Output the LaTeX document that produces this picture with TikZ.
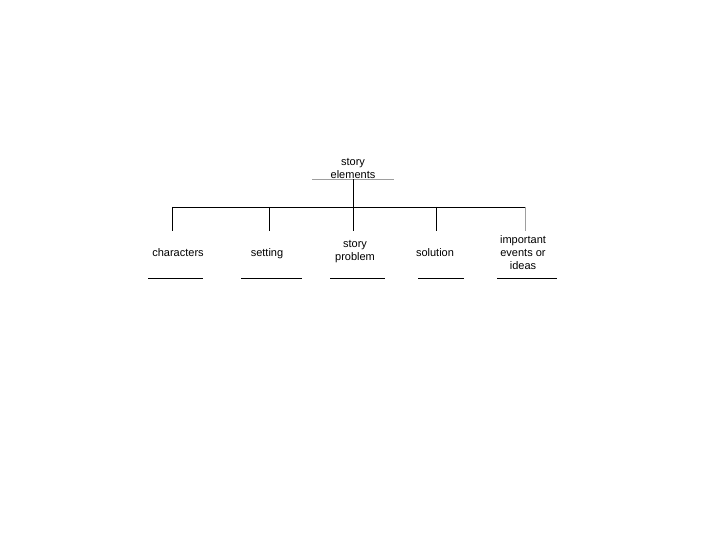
\documentclass[tikz,border=0pt]{standalone}
\usepackage{fontspec}
\setmainfont{Liberation Sans}
\usetikzlibrary{calc}
\definecolor{ruleline}{gray}{0.62}

\begin{document}
\begin{tikzpicture}[x=1pt, y=-1pt, line width=0.95pt,
    every node/.style={font=\fontsize{11}{13}\selectfont, align=center, inner sep=0pt}]
            \useasboundingbox (0, 0) rectangle (720, 540);
            \node (elements) at (353, 168.5) {story\\elements};
            \draw[ruleline] (312, 179) -- (394, 179);
            \coordinate (elementsbase) at (353, 179);
            \coordinate (hub) at (353, 207);
            \coordinate (barleft) at (172, 207);
            \coordinate (barright) at (525, 207);
            \draw (elementsbase) -- (hub);
            \draw (barleft) -- (barright);
            \node[anchor=base] (characters) at (178, 256) {characters};
            \node[anchor=base] (setting) at (267, 256) {setting};
            \node (problem) at (355, 251.5) {story\\problem};
            \node[anchor=base] (solution) at (435, 256) {solution};
            \node (events) at (523, 252.5) {important\\events or\\ideas};
            \foreach \name/\x/\col in {characters/172/black, setting/269/black, problem/353/black, solution/436/black, events/525/ruleline} {
                \coordinate (\name top) at (\x, 207);
                \coordinate (\name end) at (\x, 231);
                \draw[\col] (\name top) -- (\name end);
            }
            \foreach \name/\a/\b in {characters/148/203, setting/241/302, problem/330/385, solution/418/464, events/497/557}
                \draw (\a, 278) -- (\b, 278);
        \end{tikzpicture}
\end{document}
